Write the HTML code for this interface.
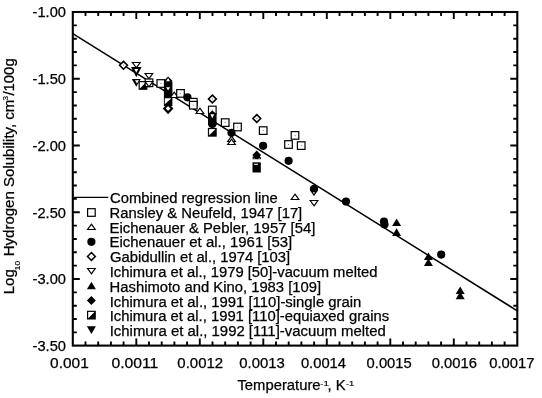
<!DOCTYPE html>
<html><head><meta charset="utf-8"><title>Hydrogen Solubility</title>
<style>
html,body{margin:0;padding:0;background:#fff;}
body{width:542px;height:398px;overflow:hidden;}
svg{display:block;}
text{font-family:"Liberation Sans",Arial,sans-serif;font-size:14px;fill:#000;stroke:#000;stroke-width:0.25px;}
text.sm{stroke-width:0.15px;}
</style></head><body>
<svg width="542" height="398" viewBox="0 0 542 398">
<rect width="542" height="398" fill="#fff"/>
<rect x="72.8" y="12.0" width="444.50" height="333.60" fill="none" stroke="#000" stroke-width="2.1"/><path d="M85.50,12.0v4M85.50,345.6v-4M98.20,12.0v4M98.20,345.6v-4M110.90,12.0v4M110.90,345.6v-4M123.60,12.0v4M123.60,345.6v-4M136.30,12.0v7M136.30,345.6v-7M149.00,12.0v4M149.00,345.6v-4M161.70,12.0v4M161.70,345.6v-4M174.40,12.0v4M174.40,345.6v-4M187.10,12.0v4M187.10,345.6v-4M199.80,12.0v7M199.80,345.6v-7M212.50,12.0v4M212.50,345.6v-4M225.20,12.0v4M225.20,345.6v-4M237.90,12.0v4M237.90,345.6v-4M250.60,12.0v4M250.60,345.6v-4M263.30,12.0v7M263.30,345.6v-7M276.00,12.0v4M276.00,345.6v-4M288.70,12.0v4M288.70,345.6v-4M301.40,12.0v4M301.40,345.6v-4M314.10,12.0v4M314.10,345.6v-4M326.80,12.0v7M326.80,345.6v-7M339.50,12.0v4M339.50,345.6v-4M352.20,12.0v4M352.20,345.6v-4M364.90,12.0v4M364.90,345.6v-4M377.60,12.0v4M377.60,345.6v-4M390.30,12.0v7M390.30,345.6v-7M403.00,12.0v4M403.00,345.6v-4M415.70,12.0v4M415.70,345.6v-4M428.40,12.0v4M428.40,345.6v-4M441.10,12.0v4M441.10,345.6v-4M453.80,12.0v7M453.80,345.6v-7M466.50,12.0v4M466.50,345.6v-4M479.20,12.0v4M479.20,345.6v-4M491.90,12.0v4M491.90,345.6v-4M504.60,12.0v4M504.60,345.6v-4M72.8,25.35h4M517.3,25.35h-4M72.8,38.70h4M517.3,38.70h-4M72.8,52.05h4M517.3,52.05h-4M72.8,65.40h4M517.3,65.40h-4M72.8,78.75h7M517.3,78.75h-7M72.8,92.10h4M517.3,92.10h-4M72.8,105.45h4M517.3,105.45h-4M72.8,118.80h4M517.3,118.80h-4M72.8,132.15h4M517.3,132.15h-4M72.8,145.50h7M517.3,145.50h-7M72.8,158.85h4M517.3,158.85h-4M72.8,172.20h4M517.3,172.20h-4M72.8,185.55h4M517.3,185.55h-4M72.8,198.90h4M517.3,198.90h-4M72.8,212.25h7M517.3,212.25h-7M72.8,225.60h4M517.3,225.60h-4M72.8,238.95h4M517.3,238.95h-4M72.8,252.30h4M517.3,252.30h-4M72.8,265.65h4M517.3,265.65h-4M72.8,279.00h7M517.3,279.00h-7M72.8,292.35h4M517.3,292.35h-4M72.8,305.70h4M517.3,305.70h-4M72.8,319.05h4M517.3,319.05h-4M72.8,332.40h4M517.3,332.40h-4" stroke="#000" stroke-width="1.9" fill="none"/><line x1="72.8" y1="33.6" x2="517.3" y2="310.8" stroke="#000" stroke-width="1.5"/>
<polygon points="123.50,61.40 127.40,65.30 123.50,69.20 119.60,65.30" fill="#fff" stroke="#000" stroke-width="1.6"/><rect x="123.00" y="64.80" width="1" height="1" fill="#666"/><polygon points="136.30,67.80 140.10,62.50 132.50,62.50" fill="#fff" stroke="#000" stroke-width="1.2"/><polygon points="132.7,68.0 139.9,68.0 136.3,75.0" fill="#fff" stroke="#000" stroke-width="2.1"/><polygon points="148.90,78.80 152.70,73.50 145.10,73.50" fill="#fff" stroke="#000" stroke-width="1.2"/><polygon points="136.30,86.70 140.80,79.10 131.80,79.10" fill="#000"/><polygon points="135.00,80.30 139.00,80.30 137.00,83.40" fill="#fff"/><rect x="139.20" y="81.60" width="7.60" height="7.60" fill="#fff" stroke="#000" stroke-width="1.2"/><polygon points="146.80,81.60 146.80,89.20 139.20,89.20" fill="#000"/><rect x="145.20" y="79.00" width="7.60" height="7.60" fill="#fff" stroke="#000" stroke-width="1.2"/><rect x="148.50" y="82.30" width="1" height="1" fill="#777"/><polygon points="149.00,86.80 152.80,81.50 145.20,81.50" fill="#fff" stroke="#000" stroke-width="1.2"/><rect x="157.00" y="79.70" width="7.60" height="7.60" fill="#fff" stroke="#000" stroke-width="1.2"/><rect x="160.30" y="83.00" width="1" height="1" fill="#777"/><polygon points="168.10,76.50 172.60,81.00 168.10,85.50 163.60,81.00" fill="#000"/><polygon points="166.10,81.20 170.10,81.20 168.10,78.10" fill="#fff"/><rect x="163.9" y="82" width="8.5" height="24" fill="#000"/><polygon points="166.10,87.30 170.10,87.30 168.10,90.40" fill="#fff"/><polygon points="164.8,98.2 171.4,98.2 164.8,104.2" fill="#fff"/><polygon points="168.1,104.6 171.9,108.6 168.1,112.6 164.3,108.6" fill="#fff" stroke="#000" stroke-width="2.2"/><polygon points="174.20,92.20 178.00,97.50 170.40,97.50" fill="#fff" stroke="#000" stroke-width="1.2"/><rect x="176.70" y="89.60" width="7.60" height="7.60" fill="#fff" stroke="#000" stroke-width="1.2"/><rect x="180.00" y="92.90" width="1" height="1" fill="#777"/><circle cx="187.40" cy="97.30" r="4.1" fill="#000"/><rect x="189.50" y="98.40" width="7.60" height="7.60" fill="#fff" stroke="#000" stroke-width="1.2"/><rect x="192.80" y="101.70" width="1" height="1" fill="#777"/><rect x="189.50" y="101.40" width="7.60" height="7.60" fill="#fff" stroke="#000" stroke-width="1.2"/><rect x="192.80" y="104.70" width="1" height="1" fill="#777"/><polygon points="199.90,108.20 203.70,113.50 196.10,113.50" fill="#fff" stroke="#000" stroke-width="1.2"/><polygon points="212.40,95.10 216.30,99.00 212.40,102.90 208.50,99.00" fill="#fff" stroke="#000" stroke-width="1.6"/><rect x="211.90" y="98.50" width="1" height="1" fill="#666"/><rect x="208.50" y="106.20" width="7.60" height="7.60" fill="#fff" stroke="#000" stroke-width="1.2"/><rect x="211.80" y="109.50" width="1" height="1" fill="#777"/><polygon points="212.3,110.4 215.8,113.6 208.8,113.6" fill="#000"/><rect x="208" y="113.2" width="8.6" height="12" fill="#000"/><polygon points="210.4,114.3 214.2,114.3 212.3,118.2" fill="#fff"/><circle cx="212.30" cy="124.00" r="4.1" fill="#000"/><rect x="208.50" y="128.50" width="7.60" height="7.60" fill="#fff" stroke="#000" stroke-width="1.2"/><polygon points="216.10,128.50 216.10,136.10 208.50,136.10" fill="#000"/><rect x="221.40" y="118.80" width="7.60" height="7.60" fill="#fff" stroke="#000" stroke-width="1.2"/><rect x="224.70" y="122.10" width="1" height="1" fill="#777"/><rect x="233.70" y="123.20" width="7.60" height="7.60" fill="#fff" stroke="#000" stroke-width="1.2"/><rect x="237.00" y="126.50" width="1" height="1" fill="#777"/><circle cx="231.50" cy="132.80" r="4.1" fill="#000"/><polygon points="231.50,136.20 235.30,141.50 227.70,141.50" fill="#fff" stroke="#000" stroke-width="1.2"/><polygon points="231.50,139.20 235.30,144.50 227.70,144.50" fill="#fff" stroke="#000" stroke-width="1.2"/><polygon points="256.80,114.60 260.70,118.50 256.80,122.40 252.90,118.50" fill="#fff" stroke="#000" stroke-width="1.6"/><rect x="256.30" y="118.00" width="1" height="1" fill="#666"/><rect x="259.40" y="126.80" width="7.60" height="7.60" fill="#fff" stroke="#000" stroke-width="1.2"/><rect x="262.70" y="130.10" width="1" height="1" fill="#777"/><circle cx="263.10" cy="145.80" r="4.1" fill="#000"/><polygon points="256.7,150.4 260.8,154.8 260.8,159.3 252.6,159.3 252.6,154.8" fill="#000"/><polygon points="252.3,155.2 253.6,156.4 252.3,157.6" fill="#fff"/><polygon points="261.1,155.2 259.8,156.4 261.1,157.6" fill="#fff"/><rect x="253.7" y="158.3" width="1.0" height="1.0" fill="#fff"/><rect x="258.7" y="158.3" width="1.0" height="1.0" fill="#fff"/><rect x="252.5" y="162.3" width="8.3" height="10.2" fill="#000"/><rect x="254" y="163.8" width="4" height="1" fill="#fff"/><rect x="291.20" y="131.60" width="7.60" height="7.60" fill="#fff" stroke="#000" stroke-width="1.2"/><rect x="294.50" y="134.90" width="1" height="1" fill="#777"/><rect x="284.70" y="140.70" width="7.60" height="7.60" fill="#fff" stroke="#000" stroke-width="1.2"/><rect x="288.00" y="144.00" width="1" height="1" fill="#777"/><rect x="297.40" y="141.80" width="7.60" height="7.60" fill="#fff" stroke="#000" stroke-width="1.2"/><rect x="300.70" y="145.10" width="1" height="1" fill="#777"/><circle cx="288.60" cy="160.80" r="4.1" fill="#000"/><circle cx="314.0" cy="188.9" r="4.2" fill="#000"/><polygon points="309.9,190 318.1,190 314,196.3" fill="#000"/><polygon points="312.8,192.1 315.2,192.1 314,194.4" fill="#aaa"/><polygon points="314.00,205.80 317.80,200.50 310.20,200.50" fill="#fff" stroke="#000" stroke-width="1.2"/><polygon points="295.00,194.20 298.80,199.50 291.20,199.50" fill="#fff" stroke="#000" stroke-width="1.2"/><circle cx="346.00" cy="201.60" r="4.1" fill="#000"/><circle cx="384.00" cy="221.50" r="4.1" fill="#000"/><circle cx="384.50" cy="224.50" r="4.1" fill="#000"/><polygon points="396.60,218.50 401.10,226.10 392.10,226.10" fill="#000"/><polygon points="396.60,228.30 401.10,235.90 392.10,235.90" fill="#000"/><polygon points="428.40,252.50 432.90,260.10 423.90,260.10" fill="#000"/><polygon points="428.40,258.50 432.90,266.10 423.90,266.10" fill="#000"/><circle cx="441.20" cy="254.60" r="4.1" fill="#000"/><polygon points="460.20,286.40 464.70,294.00 455.70,294.00" fill="#000"/><polygon points="460.20,291.60 464.70,299.20 455.70,299.20" fill="#000"/>
<rect x="87.60" y="208.70" width="7.60" height="7.60" fill="#fff" stroke="#000" stroke-width="1.2"/><rect x="90.90" y="212.00" width="1" height="1" fill="#ddd"/><polygon points="91.40,224.20 95.20,229.50 87.60,229.50" fill="#fff" stroke="#000" stroke-width="1.2"/><circle cx="91.40" cy="241.82" r="4.1" fill="#000"/><polygon points="91.40,252.58 95.30,256.48 91.40,260.38 87.50,256.48" fill="#fff" stroke="#000" stroke-width="1.5"/><rect x="90.90" y="255.98" width="1" height="1" fill="#ddd"/><polygon points="91.40,273.80 95.20,268.50 87.60,268.50" fill="#fff" stroke="#000" stroke-width="1.2"/><polygon points="91.40,281.70 95.90,289.30 86.90,289.30" fill="#000"/><polygon points="91.40,295.96 95.90,300.46 91.40,304.96 86.90,300.46" fill="#000"/><rect x="87.60" y="311.32" width="7.60" height="7.60" fill="#fff" stroke="#000" stroke-width="1.2"/><polygon points="95.20,311.32 95.20,318.92 87.60,318.92" fill="#000"/><polygon points="91.40,333.88 95.90,326.28 86.90,326.28" fill="#000"/>
<line x1="74" y1="197.4" x2="108.3" y2="197.4" stroke="#000" stroke-width="1.3"/><text x="110.05" y="203.00" textLength="167.71" lengthAdjust="spacingAndGlyphs">Combined regression line</text><text x="109.59" y="217.80" textLength="192.67" lengthAdjust="spacingAndGlyphs">Ransley &amp; Neufeld, 1947 [17]</text><text x="109.59" y="232.60" textLength="205.77" lengthAdjust="spacingAndGlyphs">Eichenauer &amp; Pebler, 1957 [54]</text><text x="109.57" y="247.40" textLength="182.69" lengthAdjust="spacingAndGlyphs">Eichenauer et al., 1961 [53]</text><text x="110.06" y="262.20" textLength="180.10" lengthAdjust="spacingAndGlyphs">Gabidullin et al., 1974 [103]</text><text x="109.74" y="277.00" textLength="267.72" lengthAdjust="spacingAndGlyphs">Ichimura et al., 1979 [50]-vacuum melted</text><text x="109.59" y="291.80" textLength="211.57" lengthAdjust="spacingAndGlyphs">Hashimoto and Kino, 1983 [109]</text><text x="109.73" y="306.60" textLength="251.63" lengthAdjust="spacingAndGlyphs">Ichimura et al., 1991 [110]-single grain</text><text x="109.74" y="321.40" textLength="279.49" lengthAdjust="spacingAndGlyphs">Ichimura et al., 1991 [110]-equiaxed grains</text><text x="109.74" y="336.20" textLength="276.02" lengthAdjust="spacingAndGlyphs">Ichimura et al., 1992 [111]-vacuum melted</text><text x="32.55" y="17.35" textLength="33.42" lengthAdjust="spacingAndGlyphs">-1.00</text><text x="32.55" y="84.10" textLength="33.42" lengthAdjust="spacingAndGlyphs">-1.50</text><text x="32.55" y="150.85" textLength="33.42" lengthAdjust="spacingAndGlyphs">-2.00</text><text x="32.55" y="217.60" textLength="33.42" lengthAdjust="spacingAndGlyphs">-2.50</text><text x="32.55" y="284.35" textLength="33.42" lengthAdjust="spacingAndGlyphs">-3.00</text><text x="32.55" y="351.10" textLength="33.42" lengthAdjust="spacingAndGlyphs">-3.50</text><text x="50.10" y="367.50" textLength="38.64" lengthAdjust="spacingAndGlyphs">0.001</text><text x="111.40" y="367.50" textLength="46.92" lengthAdjust="spacingAndGlyphs">0.0011</text><text x="177.31" y="367.50" textLength="45.84" lengthAdjust="spacingAndGlyphs">0.0012</text><text x="239.32" y="367.50" textLength="45.54" lengthAdjust="spacingAndGlyphs">0.0013</text><text x="300.92" y="367.50" textLength="45.11" lengthAdjust="spacingAndGlyphs">0.0014</text><text x="366.62" y="367.50" textLength="45.10" lengthAdjust="spacingAndGlyphs">0.0015</text><text x="431.82" y="367.50" textLength="45.12" lengthAdjust="spacingAndGlyphs">0.0016</text><text x="489.22" y="367.50" textLength="45.22" lengthAdjust="spacingAndGlyphs">0.0017</text><text x="237.47" y="390.00" textLength="83.07" lengthAdjust="spacingAndGlyphs">Temperature</text><text x="320.17" y="385.60" textLength="8.61" lengthAdjust="spacingAndGlyphs" style="font-size:7.5px" class="sm">-1</text><text x="327.57" y="390.00" textLength="18.10" lengthAdjust="spacingAndGlyphs">, K</text><text x="345.98" y="385.60" textLength="8.34" lengthAdjust="spacingAndGlyphs" style="font-size:7.5px" class="sm">-1</text><g transform="rotate(-90)"><text x="-294.33" y="14.20" textLength="25.10" lengthAdjust="spacingAndGlyphs">Log</text><text x="-270.21" y="19.90" textLength="9.34" lengthAdjust="spacingAndGlyphs" style="font-size:7.5px" class="sm">10</text><text x="-256.32" y="14.20" textLength="156.71" lengthAdjust="spacingAndGlyphs">Hydrogen Solubility, cm</text><text x="-100.73" y="8.10" textLength="4.81" lengthAdjust="spacingAndGlyphs" style="font-size:7.5px" class="sm">3</text><text x="-95.60" y="14.20" textLength="37.26" lengthAdjust="spacingAndGlyphs">/100g</text></g>
</svg>
</body></html>
